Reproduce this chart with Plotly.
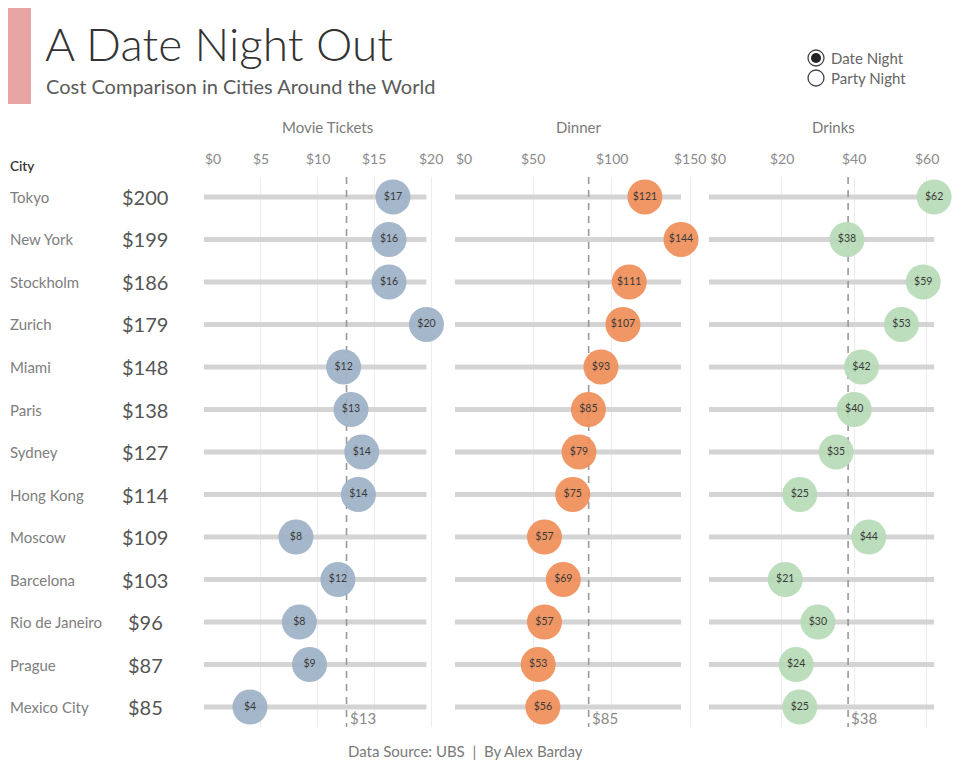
import plotly.graph_objects as go

# the page places the figure 8px in from the top-left corner (body margin)
OX, OY = 8, 8
W, H = 955, 755

cities = ["Tokyo", "New York", "Stockholm", "Zurich", "Miami", "Paris", "Sydney",
          "Hong Kong", "Moscow", "Barcelona", "Rio de Janeiro", "Prague", "Mexico City"]
totals = [200, 199, 186, 179, 148, 138, 127, 114, 109, 103, 96, 87, 85]
movie = [16.65, 16.3, 16.3, 19.6, 12.3, 12.95, 13.9, 13.6, 8.1, 11.8, 8.4, 9.3, 4.05]
dinner = [121, 144, 111, 107, 93, 85, 79, 75, 57, 69, 57, 53, 56]
drinks = [62, 38, 59, 53, 42, 40, 35, 25, 44, 21, 30, 24, 25]

panel_titles = ["Movie Tickets", "Dinner", "Drinks"]
panel_ticks = [[0, 5, 10, 15, 20], [0, 50, 100, 150], [0, 20, 40, 60]]
series = [movie, dinner, drinks]
colors = ["#9db1c6", "#f08d58", "#b6dbb6"]

FONT = "Lato"


def fx(px):
    return max(0.0, (px - OX) / W)


def fy(py):
    return min(1.0, 1 - (py - OY) / H)


domains_px = [(204, 451), (455, 703), (709, 957)]
ranges = [[0, 21.76], [0, 158], [0, 68.3]]
ytop, ybot = 177, 727
n = len(cities)
yidx = list(range(n))

fig = go.Figure()
axnames = ["x", "x2", "x3"]

for k in range(3):
    vals = series[k]
    ax = axnames[k]
    vmax = max(vals)
    bx, by = [], []
    for i in yidx:
        bx += [0, vmax, None]
        by += [i, i, None]
    fig.add_trace(go.Scatter(x=bx, y=by, mode="lines", xaxis=ax, yaxis="y",
                             line=dict(color="#d4d4d4", width=5),
                             hoverinfo="skip", showlegend=False))
    mean = sum(vals) / len(vals)
    fig.add_trace(go.Scatter(x=[mean, mean], y=[-0.47, n - 1 + 0.47], mode="lines",
                             xaxis=ax, yaxis="y",
                             line=dict(color="#9a9a9a", width=1.6, dash="7px,6px"),
                             hoverinfo="skip", showlegend=False))
    fig.add_trace(go.Scatter(x=vals, y=yidx, mode="markers+text", xaxis=ax, yaxis="y",
                             marker=dict(size=35, color=colors[k], opacity=0.92,
                                         line=dict(width=0)),
                             texttemplate="$%{x:.0f}", textposition="middle center",
                             textfont=dict(family=FONT, size=10.5, color="#3a3a3a"),
                             showlegend=False))
    fig.add_annotation(x=mean, y=n - 1 + 0.25, xref=ax, yref="y", text=f"${mean:.0f}",
                       showarrow=False, xanchor="left", yanchor="middle", xshift=1,
                       font=dict(family=FONT, size=15, color="#8a8a8a"))
    d0, d1 = domains_px[k]
    fig.add_annotation(x=fx((d0 + d1) / 2), y=fy(127), xref="paper", yref="paper",
                       text=panel_titles[k], showarrow=False, xanchor="center",
                       yanchor="middle", font=dict(family=FONT, size=15, color="#7a7a7a"))
    # tick labels (first label kept inside the pane, as in the original)
    for t in panel_ticks[k]:
        fig.add_annotation(x=t, y=fy(159), xref=ax, yref="paper", text=f"${t}",
                           showarrow=False, xanchor="left" if t == 0 else "center",
                           yanchor="middle", xshift=-1 if t == 0 else 0,
                           font=dict(family=FONT, size=14, color="#8a8a8a"))

layout_axes = {}
for k in range(3):
    key = "xaxis" if k == 0 else f"xaxis{k + 1}"
    d0, d1 = domains_px[k]
    layout_axes[key] = dict(
        domain=[fx(d0), min(fx(d1), 1)], range=ranges[k], side="top", anchor="y",
        tickvals=panel_ticks[k], showticklabels=False,
        showgrid=True, gridcolor="#ececec", gridwidth=1, zeroline=False,
        showline=False, ticks="", fixedrange=True)

fig.update_layout(
    width=W, height=H, margin=dict(l=0, r=0, t=0, b=0),
    paper_bgcolor="white", plot_bgcolor="white",
    yaxis=dict(domain=[fy(ybot), fy(ytop)], range=[n - 1 + 0.47, -0.47],
               showgrid=False, zeroline=False, showticklabels=False, showline=False),
    **layout_axes,
)

for i in yidx:
    fig.add_annotation(x=fx(8), y=i, xref="paper", yref="y", text=cities[i],
                       showarrow=False, xanchor="left", yanchor="middle",
                       font=dict(family=FONT, size=15, color="#7e7e7e"))
    fig.add_annotation(x=fx(145), y=i, xref="paper", yref="y", text=f"${totals[i]}",
                       showarrow=False, xanchor="center", yanchor="middle",
                       font=dict(family=FONT, size=20, color="#555555"))

fig.add_annotation(x=fx(8), y=fy(166), xref="paper", yref="paper", text="City",
                   showarrow=False, xanchor="left", yanchor="middle",
                   font=dict(family=FONT, size=13.5, color="#333333", weight=600))

fig.add_shape(type="rect", xref="paper", yref="paper", x0=fx(4), x1=fx(31),
              y0=fy(104), y1=fy(4), fillcolor="#e9a4a4", line=dict(width=0))
fig.add_annotation(x=fx(43), y=fy(44), xref="paper", yref="paper", text="A Date Night Out",
                   showarrow=False, xanchor="left", yanchor="middle",
                   font=dict(family=FONT, size=46, color="#333333", weight=300))
fig.add_annotation(x=fx(44), y=fy(86), xref="paper", yref="paper",
                   text="Cost Comparison in Cities Around the World",
                   showarrow=False, xanchor="left", yanchor="middle",
                   font=dict(family=FONT, size=20, color="#5a5a5a"))

for j, (lab, yy) in enumerate([("Date Night", 58), ("Party Night", 78)]):
    r = 8
    fig.add_shape(type="circle", xref="paper", yref="paper",
                  x0=fx(816 - r), x1=fx(816 + r), y0=fy(yy + r), y1=fy(yy - r),
                  line=dict(color="#444444", width=1.3), fillcolor="white")
    if j == 0:
        r2 = 5
        fig.add_shape(type="circle", xref="paper", yref="paper",
                      x0=fx(816 - r2), x1=fx(816 + r2), y0=fy(yy + r2), y1=fy(yy - r2),
                      line=dict(width=0), fillcolor="#222222")
    fig.add_annotation(x=fx(829), y=fy(yy), xref="paper", yref="paper", text=lab,
                       showarrow=False, xanchor="left", yanchor="middle",
                       font=dict(family=FONT, size=15, color="#666666"))

fig.add_annotation(x=fx(465), y=fy(751), xref="paper", yref="paper",
                   text="Data Source: UBS  |  By Alex Barday",
                   showarrow=False, xanchor="center", yanchor="middle",
                   font=dict(family=FONT, size=15, color="#7a7a7a"))

fig.write_html("out.html")
